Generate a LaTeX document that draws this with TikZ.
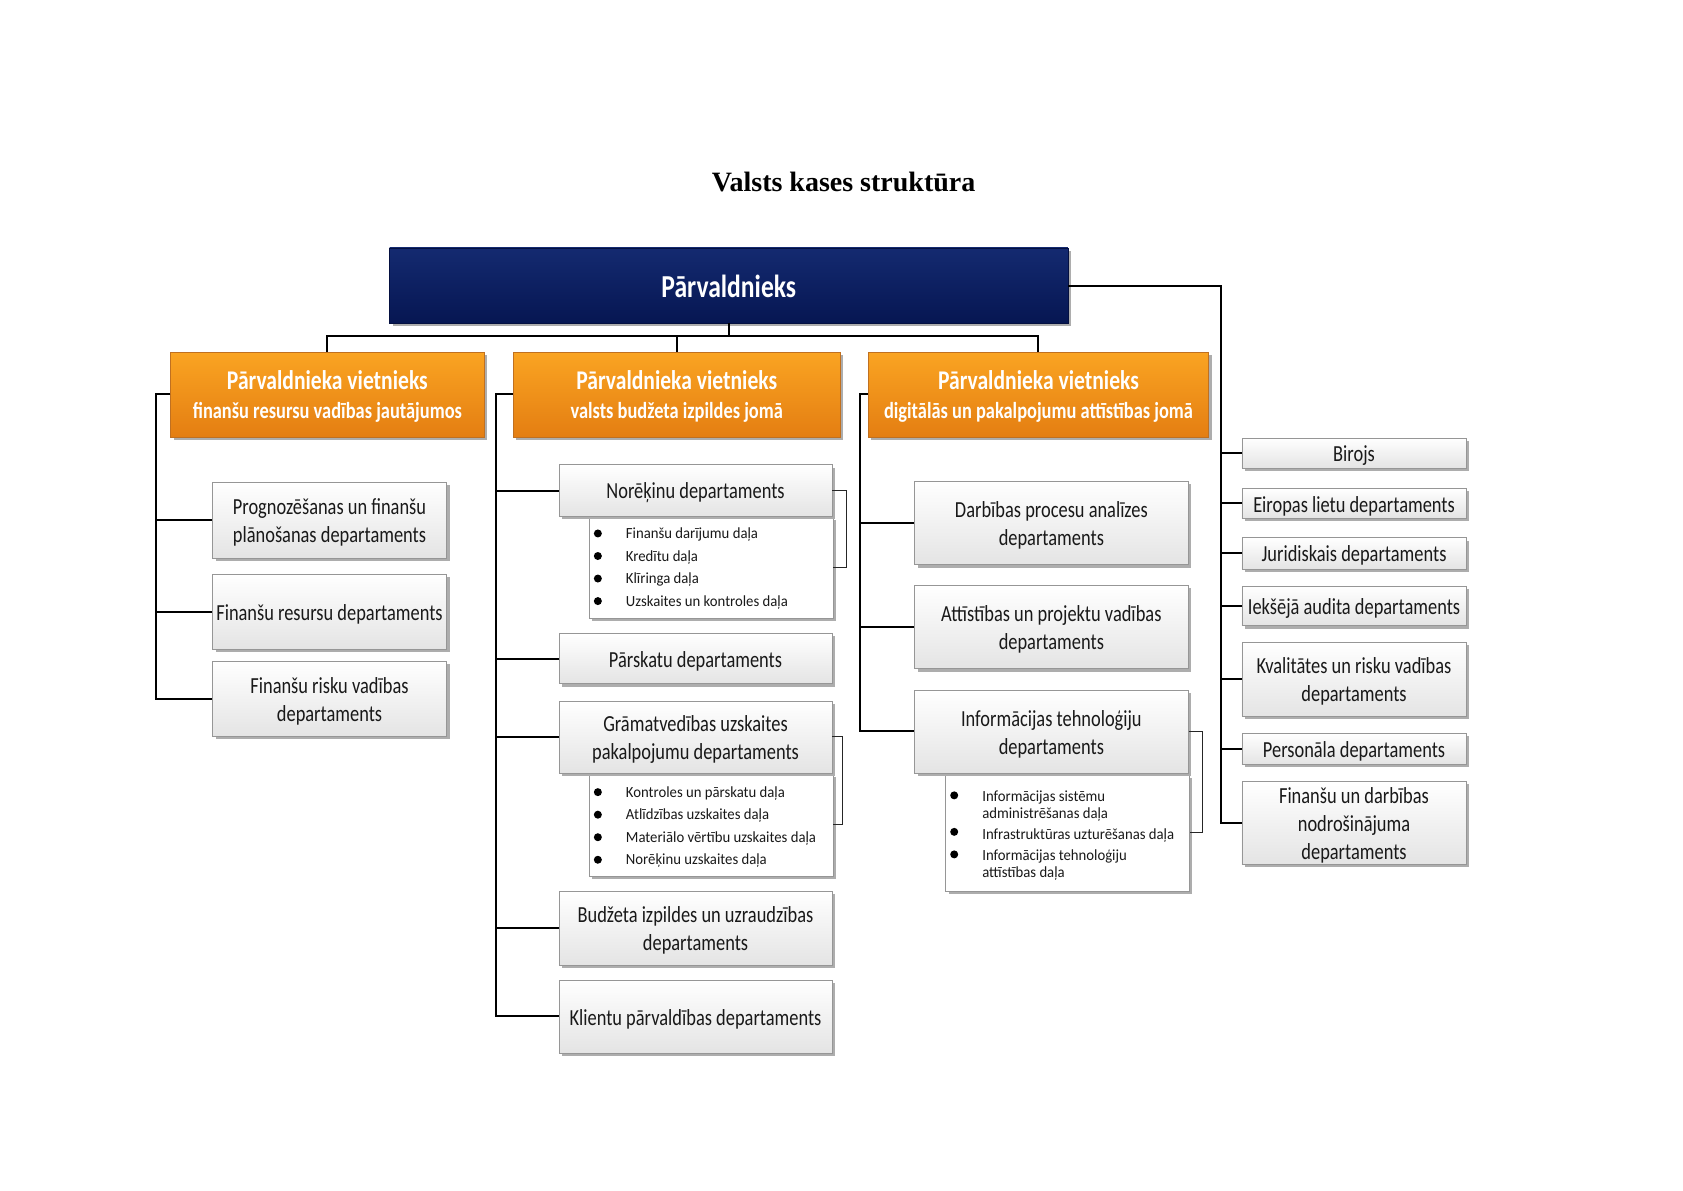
\documentclass[tikz,border=0pt]{standalone}
\usepackage{fontspec}
\setmainfont{Carlito}[FakeStretch=0.8]
\newfontfamily\itemfont{Carlito}[FakeStretch=0.95]
\newfontfamily\titlefont{Liberation Serif}
\usetikzlibrary{fit,shadows}

\definecolor{navytop}{RGB}{20,42,112}
\definecolor{navybot}{RGB}{6,22,82}
\definecolor{navyedge}{RGB}{4,16,64}
\definecolor{orangetop}{RGB}{250,164,34}
\definecolor{orangebot}{RGB}{228,126,18}
\definecolor{orangeedge}{RGB}{192,112,32}
\definecolor{boxedge}{RGB}{150,150,150}
\definecolor{boxbot}{RGB}{228,228,228}
\definecolor{ink}{RGB}{25,25,25}

% framed box spanning two corners, with its text centred in it
\newcommand\orgbox[5]{%
  \node[#1,fit={#3}] (#2) {};
  \node[#4] (#2-t) at (#2.center) {#5};}

\begin{document}
\begin{tikzpicture}[x=1.0733pt,y=-1.0733pt,
  shade/.style={drop shadow={shadow xshift=3pt,shadow yshift=-3pt,fill=black!32,opacity=1}},
  chief/.style={shade,draw=navyedge,line width=0.6pt,top color=navytop,bottom color=navybot,inner sep=0pt},
  chieftext/.style={inner sep=0pt,yshift=-1pt,text=white,font=\bfseries\fontsize{32}{36}\selectfont},
  deputy/.style={shade,draw=orangeedge,line width=0.6pt,top color=orangetop,bottom color=orangebot,inner sep=0pt},
  deputytext/.style={inner sep=0pt,yshift=-2.5pt,text=white,align=center,font=\bfseries\fontsize{27}{31}\selectfont},
  unit/.style={shade,draw=boxedge,line width=0.6pt,top color=white,bottom color=boxbot,inner sep=0pt},
  unittext/.style={inner sep=0pt,yshift=-2.5pt,text=ink,align=center,font=\fontsize{23}{28}\selectfont},
  sublist/.style={shade,draw=boxedge,line width=0.6pt,fill=white,inner sep=0pt},
  item/.style={anchor=west,inner sep=0pt,text=ink,align=left,font=\itemfont\fontsize{15.5}{16.5}\selectfont},
  conn/.style={line width=2pt,black},
  brk/.style={line width=1pt,black!85},
  dot/.style={fill=black}]

\useasboundingbox[fill=white] (0,0) rectangle (1568,1109);

% title
\node[font=\titlefont\bfseries\fontsize{28}{32}\selectfont,text=black] (title) at (786,170) {Valsts kases struktūra};

% head of the treasury
\orgbox{chief}{top}{(363,231) (995,301)}{chieftext}{Pārvaldnieks}

% deputies
\orgbox{deputy}{d1}{(159,328) (451,407)}{deputytext}{Pārvaldnieka vietnieks\\[-2pt]{\fontsize{23}{26}\selectfont finanšu resursu vadības jautājumos}}
\orgbox{deputy}{d2}{(478,328) (783,407)}{deputytext}{Pārvaldnieka vietnieks\\[-2pt]{\fontsize{23}{26}\selectfont valsts budžeta izpildes jomā}}
\orgbox{deputy}{d3}{(809,328) (1126,407)}{deputytext}{Pārvaldnieka vietnieks\\[-2pt]{\fontsize{23}{26}\selectfont digitālās un pakalpojumu attīstības jomā}}

% first deputy's departments
\orgbox{unit}{l1}{(198,449) (416,520)}{unittext}{Prognozēšanas un finanšu\\plānošanas departaments}
\orgbox{unit}{l2}{(198,535) (416,605)}{unittext}{Finanšu resursu departaments}
\orgbox{unit}{l3}{(198,616) (416,686)}{unittext}{Finanšu risku vadības\\departaments}

% second deputy's departments
\node[sublist,fit={(549,482) (776,576)}] (ms1) {};
\orgbox{unit}{m1}{(521,433) (775,481)}{unittext}{Norēķinu departaments}
\orgbox{unit}{m2}{(521,590) (775,637)}{unittext}{Pārskatu departaments}
\node[sublist,fit={(549,721) (776,816)}] (ms2) {};
\orgbox{unit}{m3}{(521,653) (775,720)}{unittext}{Grāmatvedības uzskaites\\pakalpojumu departaments}
\orgbox{unit}{m4}{(521,830) (775,899)}{unittext}{Budžeta izpildes un uzraudzības\\departaments}
\orgbox{unit}{m5}{(521,913) (775,981)}{unittext}{Klientu pārvaldības departaments}

% sections of the settlements department
\fill[dot] (557,497) circle[radius=4pt];
\fill[dot] (557,518) circle[radius=4pt];
\fill[dot] (557,539) circle[radius=4pt];
\fill[dot] (557,560) circle[radius=4pt];
\node[item] (ms1a) at (583,498) {Finanšu darījumu daļa};
\node[item] (ms1b) at (583,519) {Kredītu daļa};
\node[item] (ms1c) at (583,540) {Klīringa daļa};
\node[item] (ms1d) at (583,561) {Uzskaites un kontroles daļa};

% sections of the accounting services department
\fill[dot] (557,738) circle[radius=4pt];
\fill[dot] (557,759) circle[radius=4pt];
\fill[dot] (557,780) circle[radius=4pt];
\fill[dot] (557,801) circle[radius=4pt];
\node[item] (ms2a) at (583,739) {Kontroles un pārskatu daļa};
\node[item] (ms2b) at (583,760) {Atlīdzības uzskaites daļa};
\node[item] (ms2c) at (583,781) {Materiālo vērtību uzskaites daļa};
\node[item] (ms2d) at (583,802) {Norēķinu uzskaites daļa};

% third deputy's departments
\orgbox{unit}{r1}{(852,448) (1107,526)}{unittext}{Darbības procesu analīzes\\departaments}
\orgbox{unit}{r2}{(852,545) (1107,623)}{unittext}{Attīstības un projektu vadības\\departaments}
\node[sublist,fit={(881,722) (1108,830)}] (rs3) {};
\orgbox{unit}{r3}{(852,643) (1107,720)}{unittext}{Informācijas tehnoloģiju\\departaments}

% sections of the IT department
\fill[dot] (889,741) circle[radius=4pt];
\fill[dot] (889,775) circle[radius=4pt];
\fill[dot] (889,796) circle[radius=4pt];
\node[item] (rs3a) at (915,751) {Informācijas sistēmu\\administrēšanas daļa};
\node[item] (rs3b) at (915,778) {Infrastruktūras uzturēšanas daļa};
\node[item] (rs3c) at (915,806) {Informācijas tehnoloģiju\\attīstības daļa};

% units reporting directly to the head
\orgbox{unit}{f1}{(1157,408) (1366,436)}{unittext}{Birojs}
\orgbox{unit}{f2}{(1157,455) (1366,483)}{unittext}{Eiropas lietu departaments}
\orgbox{unit}{f3}{(1157,501) (1366,530)}{unittext}{Juridiskais departaments}
\orgbox{unit}{f4}{(1157,546) (1366,583)}{unittext}{Iekšējā audita departaments}
\orgbox{unit}{f5}{(1157,598) (1366,667)}{unittext}{Kvalitātes un risku vadības\\departaments}
\orgbox{unit}{f6}{(1157,683) (1366,712)}{unittext}{Personāla departaments}
\orgbox{unit}{f7}{(1157,728) (1366,805)}{unittext}{Finanšu un darbības\\nodrošinājuma\\departaments}

% junctions of the tree
\coordinate (bar) at (678,313);
\coordinate (lsp) at (145,0);
\coordinate (msp) at (462,0);
\coordinate (rsp) at (801,0);
\coordinate (fsp) at (1138,0);

% head to deputies
\draw[conn] (top.south) -- (top.south |- bar);
\draw[conn] (d1.north) |- (bar) -| (d3.north);
\draw[conn] (d2.north) -- (d2.north |- bar);

% head to directly reporting units
\draw[conn] (top.east) -| (fsp |- f7.west) -- (f7.west);
\foreach \n in {f1,f2,f3,f4,f5,f6}
  \draw[conn] (fsp |- \n.west) -- (\n.west);

% first deputy
\draw[conn] (d1.west) -| (lsp |- l3.west) -- (l3.west);
\foreach \n in {l1,l2}
  \draw[conn] (lsp |- \n.west) -- (\n.west);

% second deputy
\draw[conn] (d2.west) -| (msp |- m5.west) -- (m5.west);
\foreach \n in {m1,m2,m3,m4}
  \draw[conn] (msp |- \n.west) -- (\n.west);

% third deputy
\draw[conn] (d3.west) -| (rsp |- r3.west) -- (r3.west);
\foreach \n in {r1,r2}
  \draw[conn] (rsp |- \n.west) -- (\n.west);

% departments to their sections
\draw[brk] (m1.east) -- ++(13,0) |- (ms1.east);
\draw[brk] (m3.east) -- ++(10,0) |- (ms2.east);
\draw[brk] (r3.east) -- ++(13,0) |- (rs3.east);

\end{tikzpicture}
\end{document}
